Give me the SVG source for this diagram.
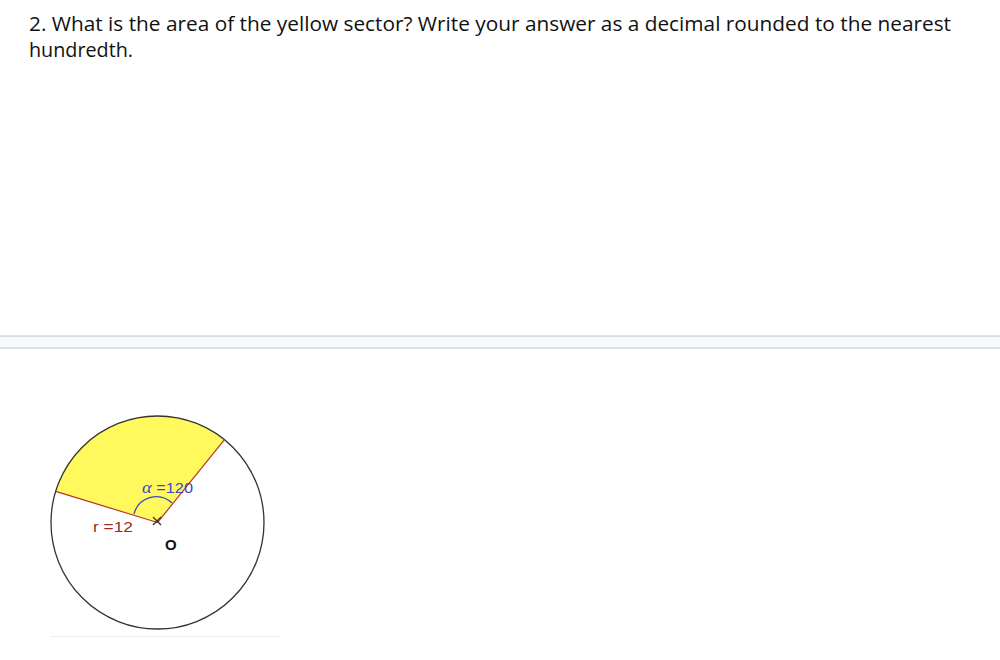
<svg xmlns="http://www.w3.org/2000/svg" width="1000" height="660" viewBox="0 0 1000 660">
<style>
.q{font-family:"Open Sans","Noto Sans","Liberation Sans",sans-serif;font-size:20px;fill:#111}
.lbl{font-family:"Liberation Sans",Arial,sans-serif;font-size:15px}
</style>
<rect width="1000" height="660" fill="#fff"/>
<g id="question">
<text class="q" x="29" y="31" textLength="922" lengthAdjust="spacingAndGlyphs">2. What is the area of the yellow sector? Write your answer as a decimal rounded to the nearest</text>
<text class="q" x="29" y="57" textLength="104" lengthAdjust="spacingAndGlyphs">hundredth.</text>
</g>
<g id="band">
<rect x="0" y="336" width="1000" height="12" fill="#f8f9fb"/>
<line x1="0" y1="336" x2="1000" y2="336" stroke="#c4c6ca" stroke-width="1"/>
<line x1="0" y1="348" x2="1000" y2="348" stroke="#c4c6ca" stroke-width="1"/>
</g>
<g id="figure">
<path id="sector" d="M157.5,522.5 L55.7,491.4 A106.5,106.5 0 0 1 224.5,439.7 Z" fill="#fff95e" stroke="none"/>
<circle id="circle" cx="157.5" cy="522.5" r="106.5" fill="none" stroke="#333" stroke-width="1.3"/>
<g id="radii" stroke="#b5372c" stroke-width="1.2" fill="none">
<line x1="157.5" y1="522.5" x2="55.7" y2="491.4"/>
<line x1="157.5" y1="522.5" x2="224.5" y2="439.7"/>
</g>
<path id="angle-arc" d="M134,514 A23,23 0 0 1 172,503" fill="none" stroke="#3a48c0" stroke-width="1.3"/>
<g id="center-mark" stroke="#333" stroke-width="1.2">
<line x1="153" y1="517" x2="161" y2="525"/>
<line x1="161" y1="517" x2="153" y2="525"/>
</g>
<text class="lbl" x="142" y="493" fill="#3a48c0" textLength="51" lengthAdjust="spacingAndGlyphs"><tspan font-style="italic" font-family="'Liberation Serif',serif" font-size="17">α</tspan> =120</text>
<text class="lbl" x="93" y="532" fill="#9e2a20" textLength="40" lengthAdjust="spacingAndGlyphs">r =12</text>
<text class="lbl" x="165" y="550" fill="#111" font-weight="bold">O</text>
<line x1="50" y1="636.5" x2="280" y2="636.5" stroke="#eeeeee" stroke-width="1"/>
</g>
</svg>
